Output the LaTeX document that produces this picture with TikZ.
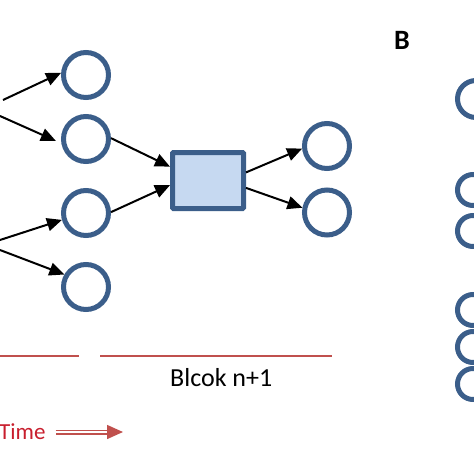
\documentclass[tikz,border=0pt]{standalone}
\usepackage{fontspec}
\setmainfont{Carlito}
\usetikzlibrary{arrows.meta,positioning}

\definecolor{ringblue}{RGB}{59,94,138}
\definecolor{boxfill}{RGB}{198,217,241}
\definecolor{linered}{RGB}{192,80,77}
\definecolor{timered}{RGB}{200,30,45}

\tikzset{
	ring/.style={circle,draw=ringblue,line width=5pt,minimum size=45pt,inner sep=0pt},
	smallring/.style={ring,minimum size=31pt},
	unit/.style={rectangle,draw=ringblue,fill=boxfill,line width=5pt,minimum width=71pt,minimum height=56pt,rounded corners=1pt},
	flow/.style={line width=2pt,-{Triangle[length=15pt,width=13pt]}},
	period/.style={draw=linered,line width=1.4pt}
}

\begin{document}
\begin{tikzpicture}[x=1pt,y=-1pt]
	\useasboundingbox (0,0) rectangle (474,474);
	\clip (0,0) rectangle (474,474);

	\node[ring]		(c1) at (86,75)		{};
	\node[ring]		(c2) at (86,139)	{};
	\node[ring]		(c3) at (86,213)	{};
	\node[ring]		(c4) at (86,287)	{};
	\node[unit]		(box) at (208,180.5)	{};
	\node[ring]		(r1) at (327,146)	{};
	\node[ring]		(r2) at (327,212.5)	{};

	\coordinate (l1) at (3,100);
	\coordinate (l2) at (0,116);
	\coordinate (l3) at (0,240);
	\coordinate (l4) at (0,250);

	\draw[flow]	(l1) -- (c1.175);
	\draw[flow,shorten >=6pt]	(l2) -- (c2.190);
	\draw[flow]	(l3) -- (c3.196);
	\draw[flow]	(l4) -- (c4.150);
	\draw[flow]	(c2.2) -- (box.160);
	\draw[flow]	(c3.2) -- (box.187);
	\draw[flow]	(box.12) -- (r1.186);
	\draw[flow]	(box.-11) -- (r2.169);

	\node[anchor=base west,inner sep=0pt] (panelB) at (394,49) {\fontsize{28}{32}\selectfont\textbf{B}};
	\node[ring,minimum size=37pt] (s0) at (476,99) {};
	\foreach \y [count=\i] in {190,231,310,347,384}
		\node[smallring] (s\i) at (473,\y) {};

	\coordinate (p1a) at (0,356);
	\coordinate (p1b) at (79,356);
	\coordinate (p2a) at (100,356);
	\coordinate (p2b) at (332,356);
	\draw[period] (p1a) -- (p1b);
	\draw[period] (p2a) -- (p2b);
	\node[anchor=base west,inner sep=0pt] (blk) at (170,386) {\fontsize{26}{30}\selectfont Blcok n+1};

	\node[text=timered,anchor=base west,inner sep=0pt] (time) at (-1,439) {\fontsize{23}{27}\selectfont Time};
	\coordinate (tend) at (123,432);
	\draw[draw=linered,double=white,double distance=2pt,line width=1.5pt,-{Triangle[length=16pt,width=14pt,fill=linered]}] (time.east |- tend) ++(10,0) -- (tend);
\end{tikzpicture}
\end{document}
